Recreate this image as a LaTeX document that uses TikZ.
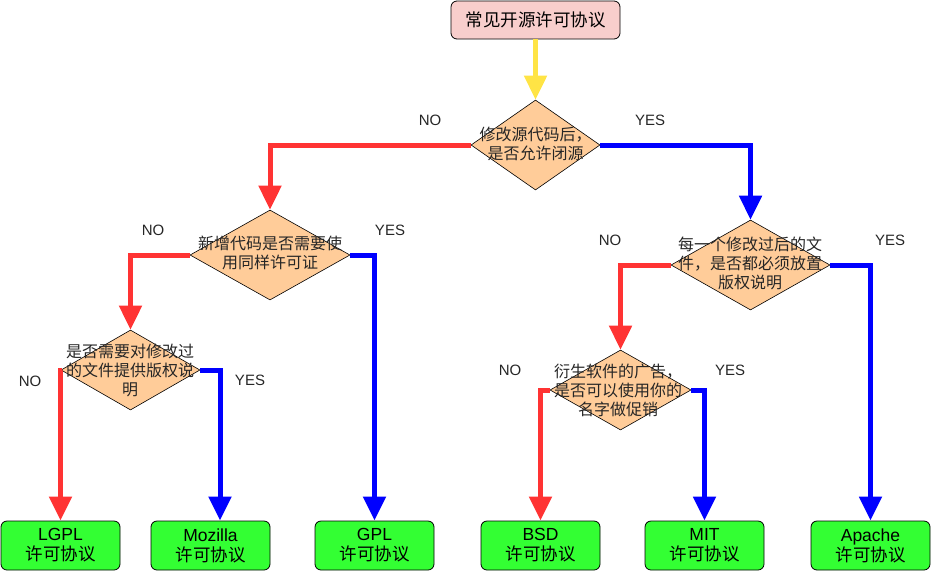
\documentclass[tikz,border=0pt]{standalone}
\usepackage{fontspec}
\setmainfont{Liberation Sans}
\newfontfamily\cjk{Noto Sans CJK SC}
\usetikzlibrary{arrows.meta,shapes.geometric}
\definecolor{cred}{HTML}{FF3333}
\definecolor{cblue}{HTML}{0000FF}
\definecolor{cyel}{HTML}{FFE445}
\definecolor{dfill}{HTML}{FFCC99}
\definecolor{tfill}{HTML}{F8CECC}
\definecolor{gfill}{HTML}{33FF33}
\tikzset{
  conn/.style={line width=5pt, -{Triangle[length=24pt,width=22pt]}},
  redline/.style={conn, draw=cred},
  blueline/.style={conn, draw=cblue},
  yelline/.style={conn, draw=cyel},
  dia/.style={diamond, draw=black, line width=0.6pt, fill=dfill, inner sep=0pt},
  dtxt/.style={font=\cjk\fontsize{16}{19}\selectfont, align=center, inner sep=0pt, text=black!85},
  endbox/.style={draw=black, line width=0.8pt, rounded corners=6pt, fill=gfill,
    minimum width=119pt, minimum height=49pt, inner sep=0pt, align=center,
    font=\fontsize{17.5}{20}\selectfont},
  topbox/.style={draw=black, line width=0.8pt, rounded corners=6pt, fill=tfill,
    minimum width=169pt, minimum height=38pt, inner sep=0pt,
    font=\cjk\fontsize{17.5}{20}\selectfont},
  lbl/.style={font=\fontsize{15}{18}\selectfont, text=black!85, inner sep=0pt}
}
\begin{document}
\begin{tikzpicture}[x=1pt,y=-1pt]
\useasboundingbox (0,0) rectangle (931,571);
% top
\node[topbox] (top) at (535.5,20) {常见开源许可协议};
% diamonds
\node[dia, minimum width=129pt, minimum height=90pt] (d1) at (535.5,145) {};
\node[dtxt] (t1) at (535.5,144) {修改源代码后，\\是否允许闭源};
\node[dia, minimum width=160pt, minimum height=90pt] (d2) at (270,255) {};
\node[dtxt] (t2) at (270,253) {新增代码是否需要使\\用同样许可证};
\node[dia, minimum width=159pt, minimum height=90pt] (d3) at (750.5,265) {};
\node[dtxt] (t3) at (750,263) {每一个修改过后的文\\件，是否都必须放置\\版权说明};
\node[dia, minimum width=139pt, minimum height=80pt] (d4) at (130.5,370) {};
\node[dtxt] (t4) at (130,370) {是否需要对修改过\\的文件提供版权说\\明};
\node[dia, minimum width=141pt, minimum height=80pt] (d5) at (620.5,390) {};
\node[dtxt] (t5) at (618,390) {衍生软件的广告，\\是否可以使用你的\\名字做促销};
% end boxes
\node[endbox] (lgpl) at (60.5,545.5) {LGPL\\{\cjk 许可协议}};
\node[endbox] (moz) at (210.5,545.5) {Mozilla\\{\cjk 许可协议}};
\node[endbox] (gpl) at (374.5,545.5) {GPL\\{\cjk 许可协议}};
\node[endbox] (bsd) at (540.5,545.5) {BSD\\{\cjk 许可协议}};
\node[endbox] (mit) at (704.5,545.5) {MIT\\{\cjk 许可协议}};
\node[endbox] (apache) at (870.5,545.5) {Apache\\{\cjk 许可协议}};
% connectors
\draw[yelline] (top.south) -- (d1.north);
\draw[redline] (d1.west) -| (d2.north);
\draw[blueline] (d1.east) -| (d3.north);
\draw[redline] (d2.west) -| (d4.north);
\draw[blueline] (d2.east) -| (gpl.north);
\draw[redline] (d4.west) -| (lgpl.north);
\draw[blueline] (d4.east) -| ([xshift=9.5pt]moz.north);
\draw[redline] (d3.west) -| (d5.north);
\draw[blueline] (d3.east) -| (apache.north);
\draw[redline] (d5.west) -| (bsd.north);
\draw[blueline] (d5.east) -| (mit.north);
% labels
\node[lbl] (no1) at (430,120) {NO};
\node[lbl] (yes1) at (650,120) {YES};
\node[lbl] (no2) at (153,230) {NO};
\node[lbl] (yes2) at (390,230) {YES};
\node[lbl] (no4) at (30,381) {NO};
\node[lbl] (yes4) at (250,380) {YES};
\node[lbl] (no3) at (610,240) {NO};
\node[lbl] (yes3) at (890,240) {YES};
\node[lbl] (no5) at (510,370) {NO};
\node[lbl] (yes5) at (730,370) {YES};
\end{tikzpicture}
\end{document}
